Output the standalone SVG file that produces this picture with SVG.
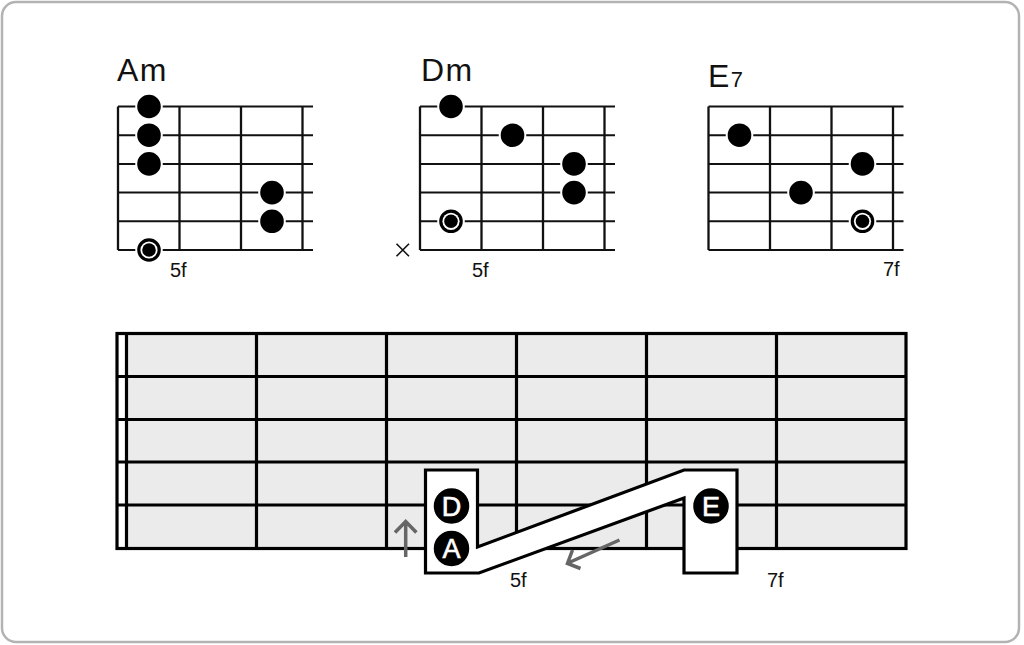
<svg xmlns="http://www.w3.org/2000/svg" width="1024" height="645" viewBox="0 0 1024 645">
<style>
.str{stroke:#111;stroke-width:2;fill:none}
.frt{stroke:#111;stroke-width:2.3;fill:none}
.dot{fill:#000;stroke:#fff;stroke-width:2}
.lbl{font-family:"Liberation Sans",Arial,sans-serif;fill:#111}
.name{font-size:32px;letter-spacing:1.5px}
.fnum{font-size:20px}
.board{stroke:#000;stroke-width:3.2;fill:none}
.note{fill:#000;stroke:#fff;stroke-width:1.5}
.ntxt{font-family:"Liberation Sans",Arial,sans-serif;font-size:27px;fill:#fff;stroke:#fff;stroke-width:0.6;text-anchor:middle}
.garr{stroke:#666;stroke-width:3.5;fill:none;stroke-linecap:butt}
</style>
<defs>
<g id="root">
<circle r="12.8" fill="#000" stroke="#fff" stroke-width="2"/>
<circle r="8.6" fill="#fff"/>
<circle r="6.8" fill="#000"/>
</g>
<g id="grid">
<path class="str" d="M0 0H195M0 28.7H195M0 57.4H195M0 86.1H195M0 114.8H195M0 143.5H195"/>
<path class="frt" d="M0 0V143.5M61.5 0V143.5M123 0V143.5M184.5 0V143.5"/>
</g>
</defs>
<rect x="2" y="2" width="1017" height="640" rx="14" fill="#fff" stroke="#b3b3b3" stroke-width="2.5"/>

<g id="chord-am">
<text class="lbl name" x="117" y="81">Am</text>
<use href="#grid" x="118" y="106.5"/>
<circle class="dot" cx="149" cy="106.5" r="12.8"/>
<circle class="dot" cx="149" cy="135.2" r="12.8"/>
<circle class="dot" cx="149" cy="163.9" r="12.8"/>
<circle class="dot" cx="272" cy="192.6" r="12.8"/>
<circle class="dot" cx="272" cy="221.3" r="12.8"/>
<use href="#root" x="149" y="250"/>
<text class="lbl fnum" x="170" y="277">5f</text>
</g>

<g id="chord-dm">
<text class="lbl name" x="421" y="81">Dm</text>
<use href="#grid" x="420" y="106.5"/>
<circle class="dot" cx="451" cy="106.5" r="12.8"/>
<circle class="dot" cx="512.5" cy="135.2" r="12.8"/>
<circle class="dot" cx="574" cy="163.9" r="12.8"/>
<circle class="dot" cx="574" cy="192.6" r="12.8"/>
<use href="#root" x="451" y="221.3"/>
<path d="M396.5 243.8L409 256.2M409 243.8L396.5 256.2" stroke="#111" stroke-width="1.6"/>
<text class="lbl fnum" x="472" y="277">5f</text>
</g>

<g id="chord-e7">
<text class="lbl" x="708" y="87" font-size="32">E<tspan font-size="22" dx="1.5">7</tspan></text>
<use href="#grid" x="708.5" y="106.5"/>
<circle class="dot" cx="739.5" cy="135.2" r="12.8"/>
<circle class="dot" cx="862.5" cy="163.9" r="12.8"/>
<circle class="dot" cx="801" cy="192.6" r="12.8"/>
<use href="#root" x="862.5" y="221.3"/>
<text class="lbl fnum" x="883" y="276">7f</text>
</g>

<g id="fretboard">
<rect x="117" y="333.5" width="789" height="215" fill="#ebebeb"/>
<rect x="117" y="333.5" width="9.5" height="215" fill="#fff"/>
<path class="board" d="M117 376.5H906M117 419.5H906M117 462H906M117 505H906"/>
<path class="board" d="M126.5 333.5V548.5M256.5 333.5V548.5M386.5 333.5V548.5M516.5 333.5V548.5M646.5 333.5V548.5M776.5 333.5V548.5"/>
<rect class="board" x="117" y="333.5" width="789" height="215"/>
</g>

<g id="path-shape">
<polygon points="425.5,470 477.5,470 477.5,547 684,470 737,470 737,573 684,573 684,498 479,573 425.5,573" fill="#fff" stroke="#000" stroke-width="3.2" stroke-linejoin="miter"/>
</g>

<g id="note-d">
<circle class="note" cx="451.5" cy="506" r="18.5"/>
<text class="ntxt" x="451.5" y="515.5">D</text>
</g>
<g id="note-a">
<circle class="note" cx="451.5" cy="548.5" r="18.5"/>
<text class="ntxt" x="451.5" y="558">A</text>
</g>
<g id="note-e">
<circle class="note" cx="711" cy="506" r="18.5"/>
<text class="ntxt" x="711" y="515.5">E</text>
</g>

<g id="connectors">
<path class="garr" d="M405.7 557V522M395 532.5L405.7 521.5L416.4 532.5"/>
<path class="garr" d="M619.5 540L568 563M580.5 568.5L567.5 563.5L572.5 550"/>
</g>

<g id="labels">
<text class="lbl fnum" x="510" y="587">5f</text>
<text class="lbl fnum" x="767" y="587">7f</text>
</g>
</svg>
